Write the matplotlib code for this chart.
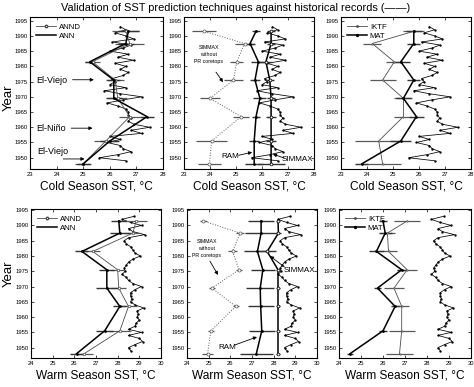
import matplotlib.pyplot as plt
from matplotlib.lines import Line2D

plt.rcParams['font.family'] = ['Liberation Sans', 'DejaVu Sans']

# time slices of the reconstructions
slices = [1948, 1955.5, 1963.5, 1969.5, 1975.5, 1981.5, 1987.5, 1991.5]

# historical records 1949-1993
hist_years = list(range(1949, 1994))
hist_cold = [26.6, 25.6, 26.3, 26.8, 26.5, 26.4, 25.9, 26.4, 26.0, 27.2,
             26.8, 27.5, 26.9, 26.7, 26.8, 26.7, 26.7, 26.6, 26.3, 25.9,
             26.5, 27.2, 26.4, 25.8, 26.6, 26.0, 26.2, 26.1, 26.5, 26.7,
             26.4, 26.6, 26.2, 26.9, 26.3, 26.7, 26.0, 26.5, 26.8, 26.1,
             26.9, 26.6, 26.2, 26.6, 26.4]
hist_warm = [28.6, 28.5, 28.8, 29.15, 29.0, 28.5, 29.1, 28.5, 28.8, 28.85,
             29.0, 28.9, 28.95, 28.9, 29.2, 28.8, 28.6, 28.65, 28.6, 28.6,
             28.8, 29.1, 28.7, 28.5, 28.4, 28.2, 28.35, 28.3, 28.4, 28.5,
             28.7, 29.05, 28.8, 28.7, 28.6, 28.4, 28.3, 28.5, 29.25, 28.7,
             28.5, 29.1, 28.6, 28.2, 28.75]

# cold season reconstructions
annd_cold = [25.0, 25.85, 26.75, 26.3, 26.2, 25.35, 26.75, 26.6]
annd_cold_err = [0.3, 0.45, 0.4, 0.35, 0.35, 0.3, 0.55, 0.5]
ann_cold = [25.0, 26.0, 27.4, 26.15, 26.15, 25.25, 26.6, 26.7]
ann_cold_err = [0.25, 0.35, 0.25, 0.3, 0.25, 0.2, 0.3, 0.4]
simpr_cold = [23.98, 24.06, 25.2, 24.0, 24.9, 25.03, 25.33, 23.77]
simpr_cold_err = [0.45, 0.6, 0.3, 0.4, 0.35, 0.25, 0.35, 0.45]
ram_cold = [25.7, 25.7, 25.77, 25.92, 25.73, 25.86, 25.54, 25.77]
ram_cold_err = [0.35, 0.2, 0.15, 0.25, 0.2, 0.3, 0.2, 0.15]
simmax_cold = [26.35, 26.35, 26.35, 26.35, 26.3, 26.15, 26.35, 26.35]
simmax_cold_err = [0.55, 0.2, 0.2, 0.15, 0.15, 0.25, 0.15, 0.15]
iktf_cold = [24.6, 24.45, 25.4, 25.4, 24.6, 25.05, 24.2, 25.8]
iktf_cold_err = [0.7, 0.9, 0.35, 0.35, 0.5, 0.3, 0.35, 0.4]
mat_cold = [23.8, 25.3, 25.9, 25.4, 25.8, 25.3, 25.8, 25.8]
mat_cold_err = [0.25, 0.4, 0.3, 0.3, 0.25, 0.35, 0.25, 0.3]

# warm season reconstructions
annd_warm = [26.45, 28.1, 28.5, 28.05, 28.0, 26.85, 28.7, 28.85]
annd_warm_err = [0.4, 0.5, 0.4, 0.35, 0.3, 0.35, 0.4, 0.5]
ann_warm = [26.1, 27.4, 28.1, 27.5, 27.5, 26.35, 28.1, 28.05]
ann_warm_err = [0.3, 0.4, 0.3, 0.5, 0.35, 0.3, 0.45, 0.35]
simpr_warm = [24.95, 25.1, 26.25, 25.15, 26.4, 26.1, 26.45, 24.75]
simpr_warm_err = [0.25, 0.15, 0.15, 0.15, 0.15, 0.2, 0.2, 0.15]
ram_warm = [27.2, 27.45, 27.4, 27.38, 27.5, 27.25, 27.42, 27.42]
ram_warm_err = [0.75, 0.6, 0.6, 0.65, 0.55, 0.6, 0.75, 0.6]
simmax_warm = [28.2, 28.2, 28.2, 28.2, 28.2, 27.7, 28.22, 28.2]
simmax_warm_err = [0.1, 0.1, 0.1, 0.1, 0.1, 0.4, 0.1, 0.1]
iktf_warm = [26.75, 26.85, 26.85, 26.5, 27.1, 26.25, 26.2, 27.1]
iktf_warm_err = [0.6, 0.6, 0.35, 0.45, 0.45, 0.4, 0.35, 0.6]
mat_warm = [24.5, 26.0, 26.55, 25.75, 26.85, 25.7, 26.1, 26.0]
mat_warm_err = [0.15, 0.2, 0.2, 0.15, 0.2, 0.35, 0.3, 0.2]

W, H = 474, 387
fig = plt.figure(figsize=(W / 100, H / 100), dpi=100)


def box(x0, x1, y0, y1):
    return [x0 / W, 1 - y1 / H, (x1 - x0) / W, (y1 - y0) / H]


top_cols = [(30, 163), (184, 314), (341, 471)]
bot_cols = [(31, 161), (187, 317), (339, 471)]
top_axes = [fig.add_axes(box(a, b, 17, 169)) for a, b in top_cols]
bot_axes = [fig.add_axes(box(a, b, 209, 358)) for a, b in bot_cols]

thin = dict(color='0.3', lw=0.6, marker='o', ms=1.8, mfc='white', mew=0.5,
            ecolor='0.35', elinewidth=0.9, capsize=0)
thick = dict(color='black', lw=1.1, marker='o', ms=1.4, mew=0.5,
             ecolor='0.2', elinewidth=1.0, capsize=0)
dotted = dict(color='0.35', lw=0.7, ls=':', marker='o', ms=2.2, mfc='white',
              mew=0.5, ecolor='0.35', elinewidth=0.9, capsize=0)


def setup(ax, xlim, ylim, xlabel, hist):
    ax.plot(hist, hist_years, color='black', lw=0.55, marker='.', ms=1.4,
            zorder=1)
    ax.set_xlim(*xlim)
    ax.set_ylim(*ylim)
    ax.set_xticks(range(xlim[0], xlim[1] + 1))
    ax.set_yticks(range(1950, 1996, 5))
    ax.tick_params(labelsize=4.2, length=2, width=0.5, direction='in',
                   pad=2, top=True, right=True)
    for s in ax.spines.values():
        s.set_linewidth(0.8)
    ax.set_xlabel(xlabel, fontsize=8.6, labelpad=3)


for ax in top_axes:
    setup(ax, (23, 28), (1946.3, 1996.2), 'Cold Season SST, \u00b0C', hist_cold)
for ax in bot_axes:
    setup(ax, (24, 30), (1946.6, 1995.4), 'Warm Season SST, \u00b0C', hist_warm)

# ANND / ANN
for ax, d, de, a, ae in [(top_axes[0], annd_cold, annd_cold_err, ann_cold, ann_cold_err),
                         (bot_axes[0], annd_warm, annd_warm_err, ann_warm, ann_warm_err)]:
    ax.errorbar(d, slices, xerr=de, **thin)
    ax.errorbar(a, slices, xerr=ae, **thick)
    ax.legend([Line2D([], [], color='0.3', lw=0.6, marker='o', ms=1.8, mfc='white'),
               Line2D([], [], color='black', lw=1.1)],
              ['ANND', 'ANN'], loc='upper left', frameon=False, fontsize=5.6,
              handlelength=2.6, labelspacing=0.25, borderaxespad=0.4,
              handletextpad=0.3)

# SIMMAX / RAM
for ax, p, pe, r, re_, s, se in [
        (top_axes[1], simpr_cold, simpr_cold_err, ram_cold, ram_cold_err,
         simmax_cold, simmax_cold_err),
        (bot_axes[1], simpr_warm, simpr_warm_err, ram_warm, ram_warm_err,
         simmax_warm, simmax_warm_err)]:
    ax.errorbar(p, slices, xerr=pe, **dotted)
    ax.errorbar(r, slices, xerr=re_, **thick)
    ax.errorbar(s, slices, xerr=se, **dict(thick, mfc='white', ms=2))

# IKTF / MAT
for ax, k, ke, m, me in [(top_axes[2], iktf_cold, iktf_cold_err, mat_cold, mat_cold_err),
                         (bot_axes[2], iktf_warm, iktf_warm_err, mat_warm, mat_warm_err)]:
    ax.errorbar(k, slices, xerr=ke, **dict(thin, marker='.', ms=2))
    ax.errorbar(m, slices, xerr=me, **thick)
    ax.legend([Line2D([], [], color='0.3', lw=0.6, marker='.', ms=2),
               Line2D([], [], color='black', lw=1.1, marker='o', ms=1.4)],
              ['IKTF', 'MAT'], loc='upper left', frameon=False, fontsize=5.6,
              handlelength=2.6, labelspacing=0.25, borderaxespad=0.4,
              handletextpad=0.3)

arrow = dict(arrowstyle='-|>', lw=0.6, color='black', mutation_scale=5,
             shrinkA=0, shrinkB=0)


def note(ax, text, pos, start, tip, size=6.5):
    ax.text(*pos, text, fontsize=size, ha='center', va='center')
    ax.annotate('', xy=tip, xytext=start, arrowprops=arrow)


ax = top_axes[0]
note(ax, 'El-Viejo', (23.83, 1975.5), (24.6, 1975.6), (25.4, 1975.6))
note(ax, 'El-Ni\u00f1o', (23.8, 1959.7), (24.55, 1959.7), (25.35, 1959.7))
note(ax, 'El-Viejo', (23.86, 1952.2), (24.25, 1949.6), (25.05, 1949.6))

ax = top_axes[1]
ax.text(23.96, 1984.0, 'SIMMAX\nwithout\nPR coretops', fontsize=3.8,
        ha='center', va='center', linespacing=1.5)
ax.annotate('', xy=(24.5, 1974.8), xytext=(24.23, 1978.1), arrowprops=arrow)
note(ax, 'RAM', (24.77, 1950.3), (25.1, 1950.8), (25.62, 1951.8), size=5.8)
note(ax, 'SIMMAX', (27.38, 1949.3), (26.85, 1949.9), (26.42, 1951.2), size=5.8)

ax = bot_axes[1]
ax.text(24.92, 1982.6, 'SIMMAX\nwithout\nPR coretops', fontsize=3.8,
        ha='center', va='center', linespacing=1.5)
ax.annotate('', xy=(25.43, 1973.8), xytext=(25.06, 1978.3), arrowprops=arrow)
note(ax, 'RAM', (25.85, 1950.2), (26.22, 1950.9), (27.23, 1953.5), size=5.8)
note(ax, 'SIMMAX', (29.2, 1975.1), (28.5, 1976.4), (27.83, 1980.0), size=5.8)

fig.text(0.497, 0.992, 'Validation of SST prediction techniques against historical records (\u2014\u2014)',
         ha='center', va='top', fontsize=7.9)
fig.text(0.018, 0.747, 'Year', rotation=90, ha='center', va='center', fontsize=9.5)
fig.text(0.018, 0.292, 'Year', rotation=90, ha='center', va='center', fontsize=9.5)

fig.savefig('out.png', dpi=100)
